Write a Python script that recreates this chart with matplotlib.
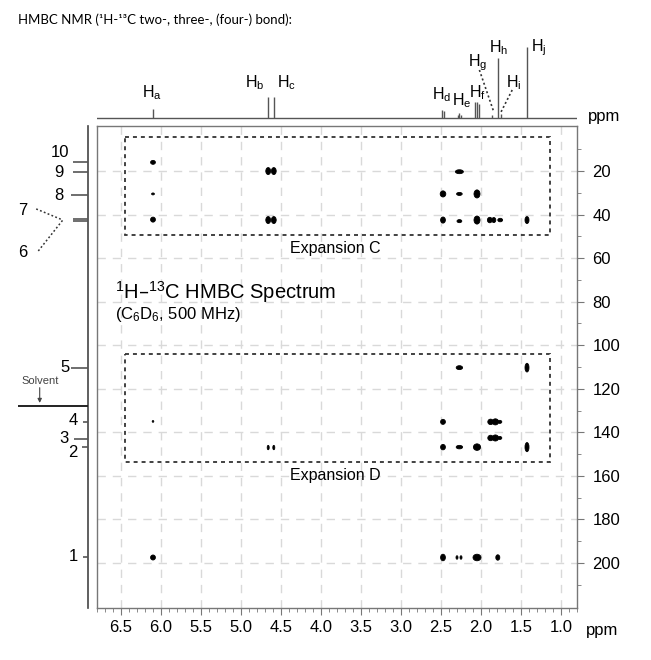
import matplotlib
matplotlib.use('Agg')
import matplotlib.pyplot as plt
from matplotlib.patches import Ellipse, Rectangle
from matplotlib.ticker import MultipleLocator, FixedLocator, FormatStrFormatter

plt.rcParams['font.family'] = ['Liberation Sans', 'DejaVu Sans']
plt.rcParams['mathtext.default'] = 'regular'

W, H = 651, 660

# 1H projection on top (ppm, height in px above baseline)
h1_ppm = [6.10, 4.66, 4.59, 2.485, 2.465, 2.29, 2.27, 2.25, 2.07, 2.05, 2.03, 1.86, 1.79, 1.75, 1.425]
h1_height = [9, 21, 21, 8, 7, 3, 5, 3, 16, 16, 14, 3, 60, 4, 71]

# proton labels
h_names = ['a', 'b', 'c', 'd', 'e', 'f', 'g', 'h', 'i', 'j']
h_label_ppm = [6.11, 4.83, 4.43, 2.49, 2.24, 2.05, 2.04, 1.78, 1.59, 1.275]
h_label_y = [25, 35, 35, 23, 17, 25, 55, 70, 35, 70]

# 13C projection on the left (ppm, relative intensity)
c13_ppm = [197.5, 146.6, 143.0, 135.1, 110.4, 42.8, 42.2, 30.8, 20.3, 16.0]
c13_int = [0.07, 0.09, 0.20, 0.07, 0.24, 0.21, 0.21, 0.24, 0.22, 0.21]
solvent_ppm = 128.06
solvent_int = 1.0

c_names = ['10', '9', '8', '7', '6', '5', '4', '3', '2', '1']
c_label_x = [0.40, 0.41, 0.41, 0.93, 0.93, 0.33, 0.21, 0.34, 0.21, 0.21]
c_label_ppm = [11.3, 20.5, 31.0, 38.3, 57.2, 110.4, 134.7, 143.0, 149.4, 197.0]

# HMBC cross peaks: 1H ppm, 13C ppm, width along 1H, width along 13C
cross_h = [6.10, 6.10, 6.10, 4.66, 4.59, 4.66, 4.59,
           2.27, 2.475, 2.27, 2.05, 2.475, 2.27, 2.05, 1.89, 1.84, 1.76, 1.425,
           2.27, 1.425, 6.10, 2.475, 1.88, 1.82, 1.765, 1.88, 1.82, 1.765,
           4.66, 4.59, 2.475, 2.27, 2.05, 1.425,
           6.10, 2.475, 2.30, 2.25, 2.05, 1.79]
cross_c = [16.0, 30.5, 42.3, 20.0, 20.0, 42.5, 42.5,
           20.3, 30.5, 30.5, 30.5, 42.5, 43.0, 42.5, 42.5, 42.5, 42.5, 42.5,
           110.3, 110.3, 135.0, 135.2, 135.2, 135.2, 135.2, 142.6, 142.6, 142.6,
           147.0, 147.0, 146.8, 146.8, 146.8, 146.8,
           197.5, 197.5, 197.5, 197.5, 197.5, 197.5]
cross_dh = [0.06, 0.035, 0.06, 0.06, 0.06, 0.06, 0.06,
            0.10, 0.07, 0.07, 0.075, 0.06, 0.06, 0.075, 0.06, 0.05, 0.06, 0.05,
            0.08, 0.05, 0.02, 0.06, 0.07, 0.08, 0.05, 0.07, 0.08, 0.05,
            0.025, 0.025, 0.06, 0.08, 0.09, 0.05,
            0.06, 0.06, 0.025, 0.025, 0.10, 0.05]
cross_dc = [1.8, 0.9, 2.3, 3.2, 3.2, 3.2, 3.2,
            1.8, 2.8, 1.4, 3.7, 2.8, 1.4, 3.7, 2.5, 2.3, 1.6, 3.2,
            1.8, 4.0, 0.8, 2.3, 2.5, 2.8, 1.4, 2.5, 2.8, 1.4,
            2.0, 2.0, 2.5, 1.6, 3.0, 4.2,
            2.3, 3.0, 1.6, 1.6, 3.0, 2.5]

# expansion regions (1H from, 1H to, 13C from, 13C to)
exp_names = ['Expansion C', 'Expansion D']
exp_h = [(6.45, 1.14), (6.45, 1.14)]
exp_c = [(4.4, 49.4), (104.0, 153.6)]

x_major = [6.5, 6.0, 5.5, 5.0, 4.5, 4.0, 3.5, 3.0, 2.5, 2.0, 1.5, 1.0]
y_major = [20, 40, 60, 80, 100, 120, 140, 160, 180, 200]
y_minor = [10, 30, 50, 70, 90, 110, 130, 150, 170, 190, 210]


def rect(x0, y0, x1, y1):
    return [x0 / W, 1 - y1 / H, (x1 - x0) / W, (y1 - y0) / H]


fig = plt.figure(figsize=(W / 100, H / 100), dpi=100)

fig.text(18 / W, 1 - 20 / H, 'HMBC NMR (\u00b9H-\u00b9\u00b3C two-, three-, (four-) bond):',
         fontsize=9.5, family=['Lato', 'DejaVu Sans'], va='center', ha='left')

# main 2D plot
ax = fig.add_axes(rect(97, 126, 577, 608))
ax.set_xlim(6.8, 0.8)
ax.set_ylim(220.7, -0.7)
ax.xaxis.set_major_locator(FixedLocator(x_major))
ax.xaxis.set_minor_locator(MultipleLocator(0.1))
ax.xaxis.set_major_formatter(FormatStrFormatter('%.1f'))
ax.yaxis.set_major_locator(FixedLocator(y_major))
ax.yaxis.set_minor_locator(FixedLocator(y_minor))
ax.yaxis.tick_right()
ax.tick_params(which='both', direction='out', color='#777777', labelsize=12, pad=4)
ax.tick_params(which='major', length=5)
ax.tick_params(which='minor', length=3)
ax.tick_params(axis='y', pad=6)
for s in ax.spines.values():
    s.set_color('#777777')
    s.set_linewidth(1.0)
ax.set_axisbelow(True)
ax.grid(which='major', color='#d9d9d9', linestyle=(0, (6, 5)), linewidth=1.0)

for h, c, dh, dc in zip(cross_h, cross_c, cross_dh, cross_dc):
    ax.add_patch(Ellipse((h, c), dh, dc, facecolor='black', edgecolor='black', linewidth=0.6))

for name, (h0, h1), (c0, c1) in zip(exp_names, exp_h, exp_c):
    ax.add_patch(Rectangle((h0, c0), h1 - h0, c1 - c0, fill=False, edgecolor='#333333',
                           linestyle=(0, (2.2, 2.2)), linewidth=1.3))
    ax.text((h0 + h1) / 2 + 0.02, c1 + 6.3, name, fontsize=11.5, ha='center', va='center')

ax.text(6.58, 75.6, '$^{1}$H\u2013$^{13}$C HMBC Spectrum', fontsize=14.5, ha='left', va='center')
ax.text(6.58, 85.8, '(C$_6$D$_6$, 500 MHz)', fontsize=12, ha='left', va='center')

fig.text(586 / W, 1 - 631 / H, 'ppm', fontsize=12, va='center', ha='left')

# top 1H projection
ax_top = fig.add_axes(rect(97, 28, 577, 124))
ax_top.set_xlim(6.8, 0.8)
ax_top.set_ylim(-6, 90)
ax_top.axis('off')
ax_top.axhline(0, color='#555555', linewidth=1.0)
ax_top.vlines(h1_ppm, 0, h1_height, color='#555555', linewidth=1.0)
for n, x, y in zip(h_names, h_label_ppm, h_label_y):
    ax_top.text(x, y, 'H$_%s$' % n, fontsize=11.5, ha='center', va='center')
ax_top.plot([2.02, 1.84], [48, 6], color='#333333', linestyle=(0, (1.2, 1.5)), linewidth=1.2)
ax_top.plot([1.61, 1.75], [28, 6], color='#333333', linestyle=(0, (1.2, 1.5)), linewidth=1.2)
fig.text(588 / W, 1 - 116 / H, 'ppm', fontsize=12, va='center', ha='left')

# left 13C projection
ax_c = fig.add_axes(rect(10, 126, 88, 608))
ax_c.set_xlim(78 / 70, 0)
ax_c.set_ylim(220.7, -0.7)
ax_c.axis('off')
ax_c.axvline(0, color='#444444', linewidth=1.2, clip_on=False)
ax_c.hlines(c13_ppm, 0, c13_int, color='#555555', linewidth=1.2)
ax_c.hlines([solvent_ppm], 0, [solvent_int], color='#222222', linewidth=1.4)
for n, x, y in zip(c_names, c_label_x, c_label_ppm):
    ax_c.text(x, y, n, fontsize=12, ha='center', va='center')
ax_c.plot([0.74, 0.36], [37.4, 42.5], color='#333333', linestyle=(0, (1.2, 1.5)), linewidth=1.1)
ax_c.plot([0.71, 0.36], [56.7, 42.5], color='#333333', linestyle=(0, (1.2, 1.5)), linewidth=1.1)
ax_c.text(0.69, 116.5, 'Solvent', fontsize=8, color='#444444', ha='center', va='center')
ax_c.annotate('', xy=(0.69, 126.5), xytext=(0.69, 119.5),
              arrowprops=dict(arrowstyle='-|>', color='#444444', lw=0.8,
                              mutation_scale=6, shrinkA=0, shrinkB=0))

fig.savefig('out.png', dpi=100)
